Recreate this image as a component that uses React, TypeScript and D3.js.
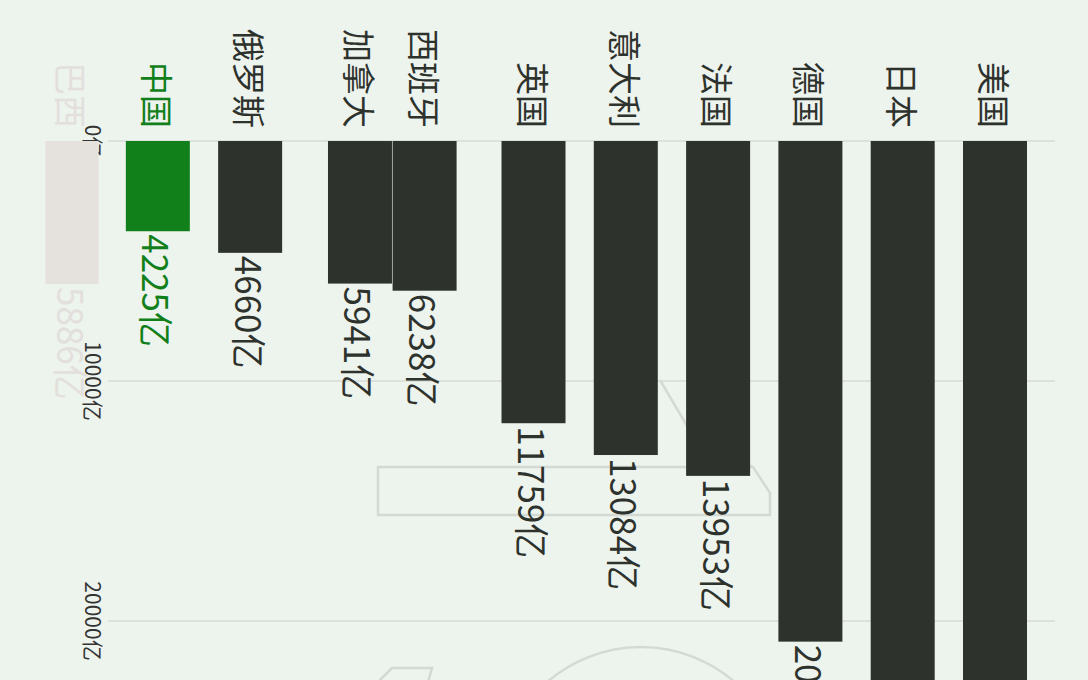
import React from "react";
import * as d3 from "d3";

// Frame of a bar-chart race, rotated 90° (bars hang down from the top)
const countries = ["美国", "日本", "德国", "法国", "意大利", "英国", "西班牙", "加拿大", "俄罗斯", "中国", "巴西"];
const labelValues = [31000, 26000, 20860, 13953, 13084, 11759, 6238, 5941, 4660, 4225, 5886];
const barValues = [31000, 26000, 20860, 13953, 13084, 11759, 6238, 5941, 4660, 3760, 5960];
// interpolated rank positions in this animation frame
const ranks = [0, 1, 2, 3, 4, 5, 6.18, 6.88, 8.07, 9.07, 10.0];
const highlight = "中国";
const fading = "巴西";
const ticks = [0, 10000, 20000];

const W = 1088;
const H = 680;
const BG = "#edf3ed";
const BAR = "#2e322c";
const GREEN = "#11801a";
const FADE_BAR = "#e5e1dd";
const FADE_TEXT = "#e2dfdc";
const GRID = "#d6dbd6";
const FONT = "'Noto Sans CJK SC', 'Noto Sans', sans-serif";

export default function App() {
  const y = d3.scaleLinear().domain([0, 10000]).range([141, 381]);
  const x = d3.scaleLinear().domain([0, 1]).range([995, 995 - 92.3]);
  const barW = 64;

  const data = countries.map((c, i) => ({
    name: c,
    label: labelValues[i],
    bar: barValues[i],
    rank: ranks[i],
  }));

  const colorOf = (n: string) => (n === highlight ? GREEN : n === fading ? FADE_BAR : BAR);
  const textColorOf = (n: string) => (n === highlight ? GREEN : n === fading ? FADE_TEXT : "#2e322c");

  return (
    <svg
      width={W}
      height={H}
      style={{ position: "absolute", left: 0, top: 0, background: BG, fontFamily: FONT }}
    >
      <rect x={0} y={0} width={W} height={H} fill={BG} />
      {/* faint background decoration */}
      <g fill="none" stroke="#d4d9d4" strokeWidth={2.5}>
        <path d="M660,380 L700,448 L753,467 L378,467 L378,515 L770,515 L770,493 L753,467" />
        <circle cx={641} cy={790} r={143} />
        <path d="M378,682 L392,668 L432,668 L428,682" />
      </g>
      {/* gridlines */}
      {ticks.map((t) => (
        <line key={t} x1={108} x2={1055} y1={y(t)} y2={y(t)} stroke={GRID} strokeWidth={1.3} />
      ))}
      {/* tick labels */}
      {ticks.map((t) => (
        <text
          key={"t" + t}
          transform={`translate(94,${y(t)}) rotate(90)`}
          textAnchor="middle"
          dominantBaseline="central"
          fontSize={21}
          fill="#333"
        >
          {t + "亿"}
        </text>
      ))}
      {/* bars */}
      {data.map((d) => {
        const w = d.name === fading ? 53 : barW;
        return (
          <rect
            key={"b" + d.name}
            x={x(d.rank) - w / 2}
            y={y(0)}
            width={w}
            height={y(d.bar) - y(0)}
            fill={colorOf(d.name)}
          />
        );
      })}
      {/* country labels */}
      {data.map((d) => (
        <text
          key={"n" + d.name}
          transform={`translate(${x(d.rank)},${y(0) - 13}) rotate(90)`}
          textAnchor="end"
          dominantBaseline="central"
          fontSize={33}
          fill={textColorOf(d.name)}
        >
          {d.name}
        </text>
      ))}
      {/* value labels (those of the longest bars fall below the frame) */}
      {data
        .filter((d) => y(d.bar) < H)
        .map((d) => (
          <text
            key={"v" + d.name}
            transform={`translate(${x(d.rank)},${y(d.bar) + 3}) rotate(90)`}
            textAnchor="start"
            dominantBaseline="central"
            fontSize={35}
            fill={textColorOf(d.name)}
          >
            {d.label + "亿"}
          </text>
        ))}
    </svg>
  );
}
